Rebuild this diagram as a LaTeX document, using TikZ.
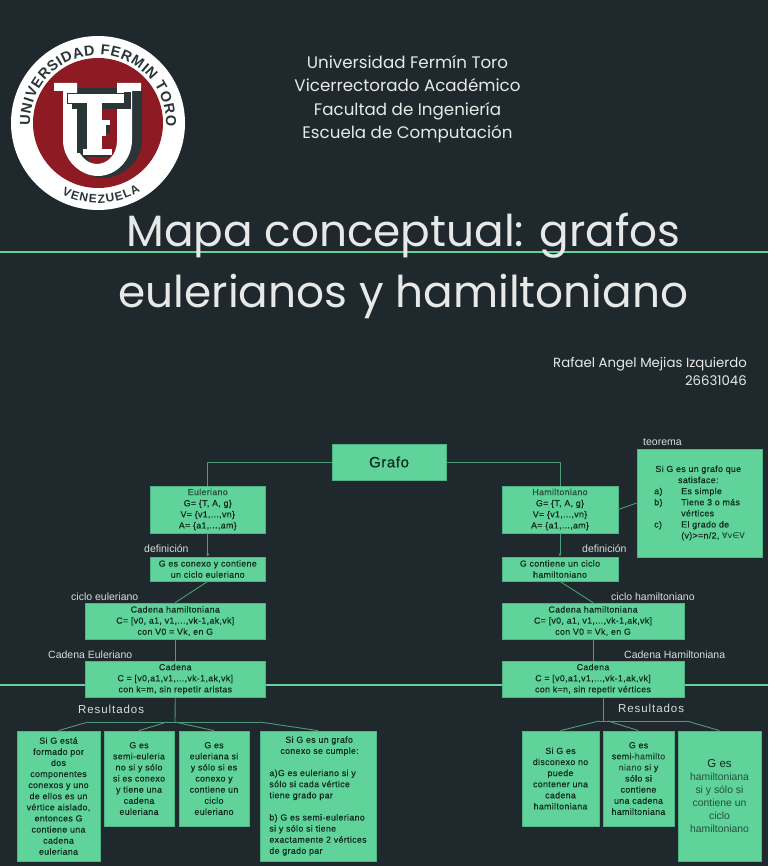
\documentclass[tikz,border=0pt]{standalone}
\usepackage{fontspec}
\usetikzlibrary{decorations.text,arrows.meta}
\setmainfont{Liberation Sans}
\newfontfamily\headf{Poppins}
\newfontfamily\boxf[LetterSpace=4,FakeBold=0.4]{Liberation Sans}
\newfontfamily\labf{Liberation Sans}
\newfontfamily\resf[LetterSpace=8]{Liberation Sans}
\newfontfamily\symf{DejaVu Sans}
\definecolor{bgc}{HTML}{1F282C}
\definecolor{boxc}{HTML}{5FD39A}
\definecolor{boxline}{HTML}{4FB585}
\definecolor{linec}{HTML}{5FD39A}
\definecolor{conn}{HTML}{4A9D78}
\definecolor{inkc}{HTML}{10291F}
\definecolor{softc}{HTML}{24503F}
\definecolor{labc}{HTML}{DADDDC}
\definecolor{headc}{HTML}{E6E9E8}
\definecolor{logored}{HTML}{8E1B24}
\definecolor{logodark}{HTML}{2A3538}
\tikzset{
 box/.style={draw=boxline,line width=0.8pt,fill=boxc,text=inkc,align=center,inner sep=0pt,
   font=\boxf\fontsize{8.8}{11.1}\selectfont},
 lab/.style={text=labc,anchor=west,inner sep=0pt,font=\labf\fontsize{10.5}{12}\selectfont},
 res/.style={text=labc,anchor=west,inner sep=0pt,font=\resf\fontsize{11.5}{13}\selectfont},
 head/.style={text=headc,align=center,inner sep=0pt,font=\headf\fontsize{16.7}{23.5}\selectfont},
 ttl/.style={text=headc,align=center,inner sep=0pt,font=\headf\fontsize{43.8}{61}\selectfont},
 link/.style={draw=conn,line width=0.9pt},
 rule/.style={draw=linec,line width=1.2pt},
}
\newcommand{\bx}[6]{\node[box,minimum width=#3-#2,minimum height=#5-#4] (#1) at ({(#2+#3)/2},{(#4+#5)/2}) {#6};}
\begin{document}
\begin{tikzpicture}[x=1pt,y=-1pt]
\useasboundingbox (0,0) rectangle (768,866);
\fill[bgc] (0,0) rectangle (768,866);
% rules
\coordinate (ruleAl) at (0,252); \coordinate (ruleAr) at (768,252);
\coordinate (ruleBl) at (0,685); \coordinate (ruleBr) at (768,685);
\draw[rule] (ruleAl) -- (ruleAr);
\draw[rule] (ruleBl) -- (ruleBr);
% logo
\fill[white] (98,123) circle[radius=87];
\fill[logored] (98,123) circle[radius=65];
% dark shadow of the U
\fill[logodark] (70,88) -- (142,88) -- (142,140) .. controls (142,162) and (122,178) .. (103,178) .. controls (84,178) and (70,160) .. (70,140) -- cycle;
% red inside of the U
\fill[logored] (84,108) -- (117,108) -- (122,140) .. controls (122,155) and (112,165) .. (100,165) .. controls (92,165) and (84,158) .. (84,148) -- cycle;
% white U
\fill[white] (54,83) -- (77,83) -- (77,141) .. controls (77,155) and (87,164) .. (97,164) .. controls (107,164) and (117,155) .. (117,141) -- (117,83) -- (141,83) -- (141,91) -- (132,91) -- (132,140) .. controls (132,160) and (116,176) .. (98,176) .. controls (80,176) and (63,160) .. (63,140) -- (63,91) -- (54,91) -- cycle;
% shadow of T
\fill[logodark] (72,100) rectangle (131,109);
\fill[logodark] (124,92) rectangle (131,109);
\fill[logodark] (77,105) rectangle (87,153);
\fill[logodark] (83,153) rectangle (110,157);
% T and F
\fill[white,draw=logodark,line width=0.6pt] (67,93) rectangle (124,103);
\fill[white] (87,103) rectangle (102,152);
\fill[white] (83,149) rectangle (112,155);
\fill[white] (102,120) rectangle (110,125);
\fill[white] (102,125) rectangle (106,136);
\fill[logodark] (106,125) rectangle (110,133);
\begin{scope}[shift={(98,123)},y=1pt]
\path[decorate,decoration={text along path,text align={fit to path},
  text={|\fontsize{14.5}{15}\bfseries\color{logodark}|UNIVERSIDAD FERMIN TORO}}]
  (182:68) arc[start angle=182,end angle=-3,radius=68];
\path[decorate,decoration={text along path,text align={fit to path},
  text={|\fontsize{12}{13}\bfseries\color{logodark}|VENEZUELA}}]
  (243:80) arc[start angle=243,end angle=302,radius=80];
\end{scope}
% headers
\node[head] (hdr) at (407.5,99) {Universidad Fermín Toro\\Vicerrectorado Académico\\Facultad de Ingeniería\\Escuela de Computación};
\node[ttl] (title) at (403.5,266) {Mapa conceptual: grafos\\eulerianos y hamiltoniano};
\node[text=headc,align=right,anchor=east,inner sep=0pt,font=\headf\fontsize{13.3}{18}\selectfont] (author) at (747,371) {Rafael Angel Mejias Izquierdo\\26631046};
% nodes
\bx{grafo}{332}{446}{444}{480}{\fontsize{15}{17}\selectfont Grafo}
\bx{euler}{150}{265.5}{486}{533}{{\color{softc}Euleriano}\\G= \{T, A, g\}\\V= \{v1,...,vn\}\\A= \{a1,...,am\}}
\bx{defe}{150}{265.5}{557}{581}{G es conexo y contiene\\un ciclo euleriano}
\bx{che}{85}{265.5}{603}{639}{Cadena hamiltoniana\\C= [v0, a1, v1,...,vk-1,ak,vk]\\con V0 = Vk, en G}
\bx{cae}{85}{265.5}{661}{697}{Cadena\\C = [v0,a1,v1,...,vk-1,ak,vk]\\con k=m, sin repetir aristas}
\bx{hami}{502}{618}{486}{533}{{\color{softc}Hamiltoniano}\\G= \{T, A, g\}\\V= \{v1,...,vn\}\\A= \{a1,...,am\}}
\bx{defh}{502}{618}{557}{581}{G contiene un ciclo\\hamiltoniano}
\bx{chh}{502}{684}{603}{639}{Cadena hamiltoniana\\C= [v0, a1, v1,...,vk-1,ak,vk]\\con V0 = Vk, en G}
\bx{cah}{502}{684}{661}{697}{Cadena\\C = [v0,a1,v1,...,vk-1,ak,vk]\\con k=n, sin repetir vértices}
\node[box,minimum width=125,minimum height=108,align=left] (teo) at (699.5,503) {%
\makebox[88pt][c]{Si G es un grafo que}\\\makebox[88pt][c]{satisface:}\\
\makebox[27pt][l]{a)}Es simple\\\makebox[27pt][l]{b)}Tiene 3 o más\\\hspace*{27pt}vértices\\
\makebox[27pt][l]{c)}El grado de\\\hspace*{27pt}(v)>=n/2, {\symf\fontsize{8}{11}\selectfont ∀v∈V}};
\bx{ra}{17}{100}{731}{861}{Si G está\\formado por\\dos\\componentes\\conexos y uno\\de ellos es un\\vértice aislado,\\entonces G\\contiene una\\cadena\\euleriana}
\bx{rb}{104}{174}{731}{826}{G es\\semi-euleria\\no si y sólo\\si es conexo\\y tiene una\\cadena\\euleriana}
\bx{rc}{179}{249}{731}{826}{G es\\euleriana si\\y sólo si es\\conexo y\\contiene un\\ciclo\\euleriano}
\node[box,minimum width=116,minimum height=130,align=left] (rd) at (318,796) {\hspace*{16pt}Si G es un grafo\\\hspace*{11pt}conexo se cumple:\\[11.1pt]a)G es euleriano si y\\sólo si cada vértice\\tiene grado par\\[11.1pt]b) G es semi-euleriano\\si y sólo si tiene\\exactamente 2 vértices\\de grado par};
\bx{re}{522}{599}{731}{826}{Si G es\\disconexo no\\puede\\contener una\\cadena\\hamiltoniana}
\bx{rf}{603}{674}{731}{826}{G es\\semi-{\color{softc}hamilto}\\{\color{softc}niano} si y\\sólo si\\contiene\\una cadena\\hamiltoniana}
\bx{rg}{678}{761}{731}{861}{\begin{minipage}[c]{83pt}\centering\labf\color{softc}\fontsize{10.4}{12.9}\selectfont{\color{inkc}\fontsize{11.5}{12.9}\selectfont G es}\\hamiltoniana\\si y sólo si\\contiene un\\ciclo\\hamiltoniano\end{minipage}}
% connectors
\draw[link] (grafo.west) -| (euler.north);
\draw[link] (grafo.east) -| (hami.north);
\draw[link,-{Latex[length=3pt,width=3pt]}] (euler.south) -- (defe.north);
\draw[link,-{Latex[length=3pt,width=3pt]}] (hami.south) -- (defh.north);
\draw[link] (defe.south) -- (che.north);
\draw[link] (defh.south) -- (chh.north);
\draw[link] (che.south) -- (cae.north);
\draw[link] (chh.south) -- (chh.south |- cah.north);
\draw[link] (hami.east) -- (teo.west);
% left results tree
\coordinate (jl) at (175,722); \coordinate (ja) at (88,722); \coordinate (jb) at (167,722); \coordinate (jd) at (260,722);
\draw[link] (cae.south) -- (jl);
\draw[link] (ja) -- (jd);
\draw[link] (ja) -- (ra.north);
\draw[link] (jb) -- (rb.north);
\draw[link] (jl) -- (rc.north);
\draw[link] (jd) -- (rd.north);
% right results tree
\coordinate (jr) at (603,721); \coordinate (je) at (599,721); \coordinate (jf) at (608,721); \coordinate (jg) at (687,721);
\draw[link] (jr |- cah.south) -- (jr);
\draw[link] (je) -- (jg);
\draw[link] (je) -- (re.north);
\draw[link] (jf) -- (rf.north);
\draw[link] (jg) -- (rg.north);
% labels
\node[lab] (l1) at (144,549) {definición};
\node[lab] (l2) at (71,597) {ciclo euleriano};
\node[lab] (l3) at (48,655) {Cadena Euleriano};
\node[res] (l4) at (78,709) {Resultados};
\node[lab] (l5) at (643,442) {teorema};
\node[lab] (l6) at (582,549) {definición};
\node[lab] (l7) at (611,597) {ciclo hamiltoniano};
\node[lab] (l8) at (624,655) {Cadena Hamiltoniana};
\node[res] (l9) at (618,708) {Resultados};
\end{tikzpicture}
\end{document}
